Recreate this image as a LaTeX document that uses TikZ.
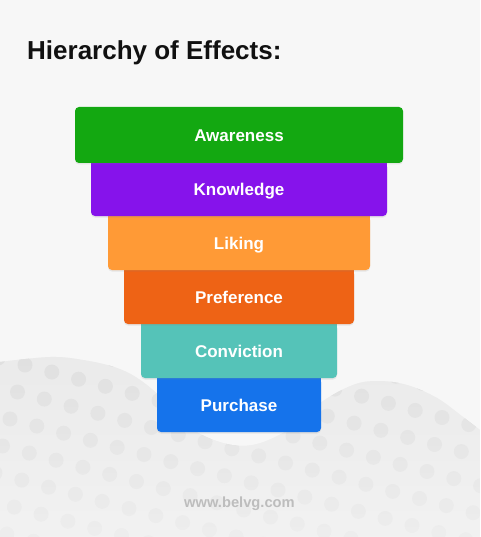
\documentclass[tikz,border=0pt]{standalone}
\usepackage{fontspec}
\setmainfont{Liberation Sans}
\usetikzlibrary{fadings,shadows}
\definecolor{bgc}{HTML}{F7F7F7}
\definecolor{wavec}{HTML}{E7E7E7}
\definecolor{dotc}{HTML}{D9D9D9}
\definecolor{awc}{HTML}{13A811}
\definecolor{knc}{HTML}{8613EB}
\definecolor{lkc}{HTML}{FF9A36}
\definecolor{prc}{HTML}{EE6315}
\definecolor{cvc}{HTML}{55C3B8}
\definecolor{puc}{HTML}{1573EB}
\definecolor{titlec}{HTML}{111111}
\definecolor{urlc}{HTML}{BDBDBD}
\tikzset{
  stage/.style={rounded corners=4pt, inner sep=0pt, text=white,
    font=\fontsize{17}{20}\selectfont\bfseries, text height=12.2pt, text depth=0pt,
    drop shadow={shadow xshift=0pt, shadow yshift=-1.5pt, opacity=0.15}},
  dotmark/.style={fill=dotc},
}
\begin{document}
\begin{tikzpicture}[x=1pt,y=-1pt]
\useasboundingbox (0,0) rectangle (480,537);
\fill[bgc] (0,0) rectangle (480,537);
% wave background with dots
\begin{scope}
  \clip plot[smooth, tension=0.6] coordinates {(0,362) (50,357) (83,360) (117,368) (143,382) (175,410) (200,434) (243,446) (283,433) (320,403) (353,385) (378,381) (407,385) (437,398) (463,417) (480,430)} -- (480,537) -- (0,537) -- cycle;
  \fill[wavec] (0,340) rectangle (480,537);
  \foreach \i in {-4,...,22}{
    \foreach \j in {-4,...,8}{
      \fill[dotmark] ({25+26.8*\i-7.5*\j},{365+7.1*\i+27*\j}) circle[radius=7.5pt];
    }
  }
  \fill[bgc, path fading=north] (0,260) rectangle (480,660);
\end{scope}
% stages, bottom first
\fill[puc] (157,372) rectangle (321,384);
\node[stage, fill=puc, minimum width=164pt, minimum height=54pt] (purchase) at (239,405) {Purchase};
\fill[cvc] (141,318) rectangle (337,330);
\node[stage, fill=cvc, minimum width=196pt, minimum height=54pt] (conviction) at (239,351) {Conviction};
\fill[prc] (124,264) rectangle (354,276);
\node[stage, fill=prc, minimum width=230pt, minimum height=54pt] (preference) at (239,297) {Preference};
\fill[lkc] (108,210) rectangle (370,222);
\node[stage, fill=lkc, minimum width=262pt, minimum height=54pt] (liking) at (239,243) {Liking};
\fill[knc] (91,157) rectangle (387,169);
\node[stage, fill=knc, minimum width=296pt, minimum height=53pt] (knowledge) at (239,189.5) {Knowledge};
\node[stage, fill=awc, minimum width=328pt, minimum height=56pt] (awareness) at (239,135) {Awareness};
% texts
\node[anchor=base west, inner sep=0pt, font=\fontsize{26}{30}\selectfont\bfseries, text=titlec] (title) at (27,60) {Hierarchy of Effects:};
\node[anchor=base, inner sep=0pt, font=\fontsize{14.7}{17}\selectfont\bfseries, text=urlc] (url) at (239.5,507) {www.belvg.com};
\end{tikzpicture}
\end{document}
